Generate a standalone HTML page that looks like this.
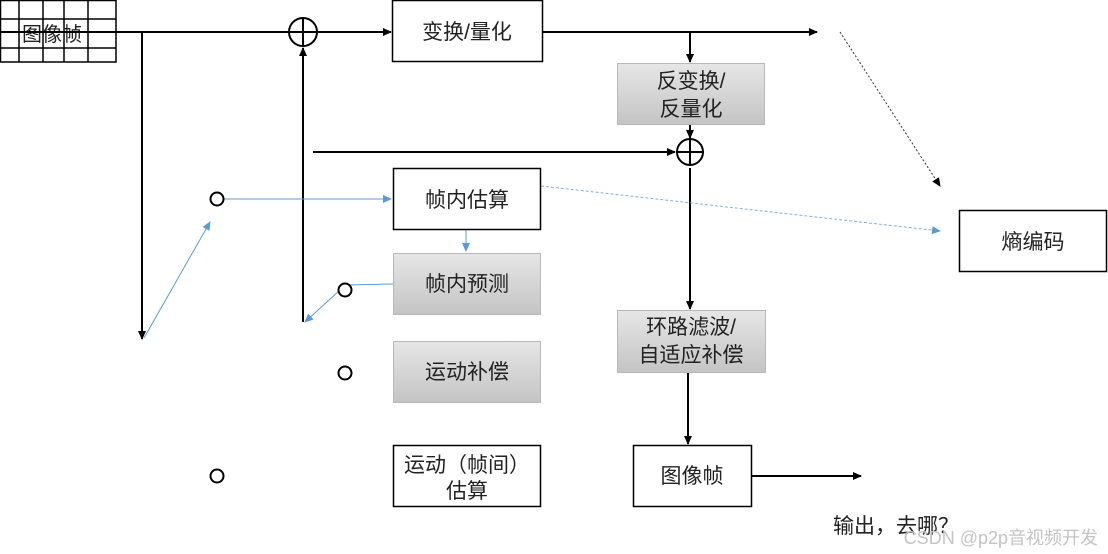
<!DOCTYPE html>
<html><head><meta charset="utf-8"><style>
html,body{margin:0;padding:0;background:#fff;}
svg{display:block;}
text{font-family:"Liberation Sans","Noto Sans CJK SC",sans-serif;fill:#222;}
</style></head><body>
<svg width="1108" height="554" viewBox="0 0 1108 554" xmlns="http://www.w3.org/2000/svg">
<defs>
<linearGradient id="g" x1="0" y1="0" x2="0" y2="1"><stop offset="0" stop-color="#e6e6e6"/><stop offset="1" stop-color="#c4c4c4"/></linearGradient>
<marker id="a" markerWidth="10" markerHeight="10" refX="8" refY="5" orient="auto" markerUnits="userSpaceOnUse"><path d="M0,1 L9,5 L0,9z" fill="#000"/></marker>
<marker id="b" markerWidth="10" markerHeight="10" refX="8" refY="5" orient="auto" markerUnits="userSpaceOnUse"><path d="M0,1 L9,5 L0,9z" fill="#5b9bd5"/></marker>
</defs>
<!-- grid -->
<g stroke="#000" stroke-width="1.5" fill="none">
<rect x="0.5" y="0.5" width="115.5" height="61.5"/>
<line x1="19" y1="0" x2="19" y2="62"/><line x1="43" y1="0" x2="43" y2="62"/><line x1="64" y1="0" x2="64" y2="62"/><line x1="88" y1="0" x2="88" y2="62"/>
<line x1="0" y1="19" x2="116" y2="19"/><line x1="0" y1="48" x2="116" y2="48"/>
</g>
<text x="22" y="41" font-size="20">图像帧</text>
<g stroke="#000" stroke-width="2" fill="none">
<line x1="0" y1="32" x2="289" y2="32"/>
<line x1="142" y1="32" x2="142" y2="339" marker-end="url(#a)"/>
<circle cx="303" cy="32" r="14"/><line x1="303" y1="18" x2="303" y2="46"/><line x1="289" y1="32" x2="317" y2="32"/>
<line x1="303" y1="322" x2="303" y2="48" marker-end="url(#a)"/>
<line x1="317" y1="32" x2="391" y2="32" marker-end="url(#a)"/>
<line x1="543" y1="32" x2="817" y2="32" marker-end="url(#a)"/>
<line x1="690" y1="32" x2="690" y2="62" marker-end="url(#a)"/>
<line x1="690" y1="125" x2="690" y2="138" marker-end="url(#a)"/>
<line x1="313" y1="152" x2="675" y2="152" marker-end="url(#a)"/>
<circle cx="690" cy="152" r="13"/><line x1="690" y1="139" x2="690" y2="165"/><line x1="677" y1="152" x2="703" y2="152"/>
<line x1="690" y1="168" x2="690" y2="309" marker-end="url(#a)"/>
<line x1="688" y1="372" x2="688" y2="444" marker-end="url(#a)"/>
<line x1="752" y1="476" x2="861" y2="476" marker-end="url(#a)"/>
</g>
<line x1="840" y1="32" x2="940" y2="186" stroke="#333" stroke-width="1" stroke-dasharray="2,2" marker-end="url(#a)"/>
<line x1="541" y1="186" x2="940" y2="231" stroke="#7fb0e0" stroke-width="1" stroke-dasharray="3,2" marker-end="url(#b)"/>
<g stroke="#5b9bd5" stroke-width="1" fill="none">
<line x1="224" y1="199" x2="391" y2="199" marker-end="url(#b)"/>
<line x1="144" y1="338" x2="210" y2="222" marker-end="url(#b)"/>
<line x1="466" y1="230" x2="466" y2="251" marker-end="url(#b)"/>
<polyline points="393,284 347,285"/>
<line x1="340" y1="290" x2="305" y2="322" marker-end="url(#b)"/>
</g>
<g fill="#fff" stroke="#000" stroke-width="2">
<circle cx="217" cy="199" r="6.5"/><circle cx="345" cy="290" r="6.5"/><circle cx="345" cy="373" r="6.5"/><circle cx="217" cy="476" r="6.5"/>
</g>
<!-- boxes -->
<g stroke="#000" stroke-width="1.5">
<rect x="392.5" y="0.5" width="150" height="61" fill="#fff"/>
<rect x="393.5" y="168.5" width="147" height="61" fill="#fff"/>
<rect x="393.5" y="445.5" width="147" height="61" fill="#fff"/>
<rect x="633.5" y="445.5" width="118" height="61" fill="#fff"/>
<rect x="959.5" y="210.5" width="147" height="61" fill="#fff"/>
</g>
<g stroke="#b8b8b8" stroke-width="1" fill="url(#g)">
<rect x="617.5" y="63.5" width="147" height="61"/>
<rect x="393.5" y="253.5" width="147" height="61"/>
<rect x="393.5" y="341.5" width="147" height="61"/>
<rect x="617.5" y="310.5" width="148" height="62"/>
</g>
<g font-size="21" text-anchor="middle">
<text x="467" y="39">变换/量化</text>
<text x="691" y="88">反变换/</text><text x="691" y="116">反量化</text>
<text x="467" y="207">帧内估算</text>
<text x="467" y="291">帧内预测</text>
<text x="467" y="379">运动补偿</text>
<text x="467" y="472">运动（帧间）</text><text x="467" y="498">估算</text>
<text x="691" y="334">环路滤波/</text><text x="691" y="362">自适应补偿</text>
<text x="692" y="483">图像帧</text>
<text x="1033" y="249">熵编码</text>
<text x="896" y="533">输出，去哪？</text>
</g>
<text x="1098" y="544" font-size="18" text-anchor="end" fill="#bbb" style="fill:#c4c4c4">CSDN @p2p音视频开发</text>
</svg>
</body></html>
